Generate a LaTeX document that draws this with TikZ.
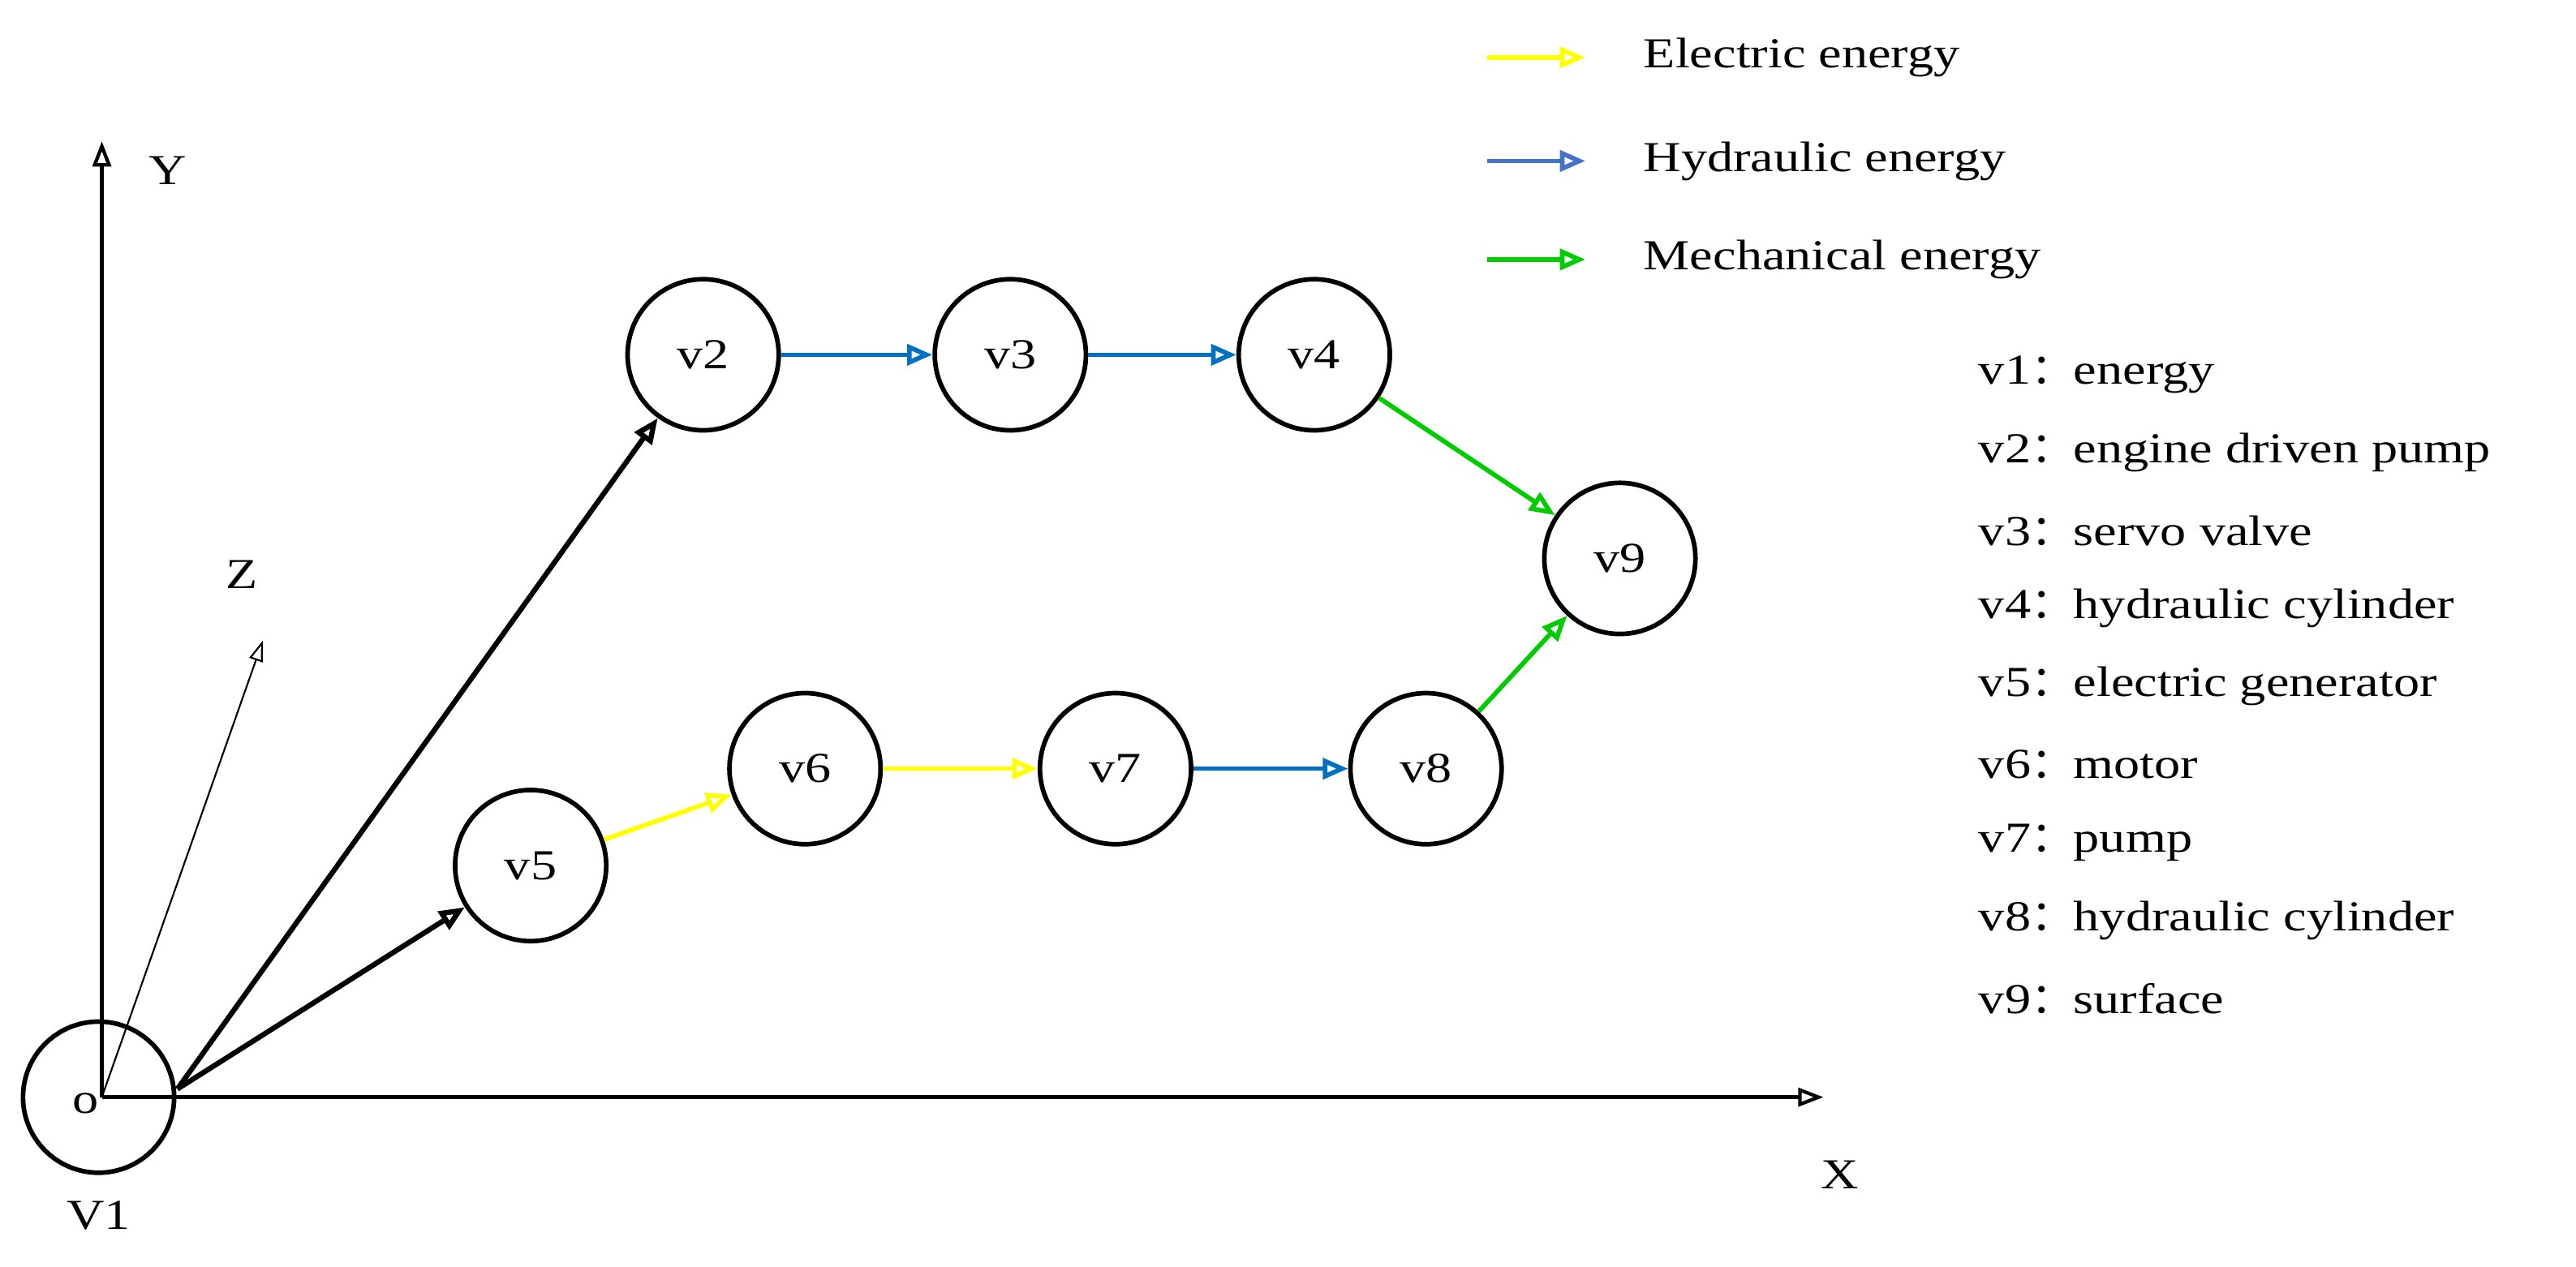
\documentclass[tikz,border=0pt]{standalone}
\usepackage{fontspec}
\setmainfont{Liberation Serif}[FakeStretch=1.22]
\newfontfamily\cjk{Noto Sans CJK SC}
\usetikzlibrary{arrows.meta}
\definecolor{cy}{HTML}{FFFF00}
\definecolor{cb}{HTML}{0070C0}
\definecolor{cb2}{HTML}{4472C4}
\definecolor{cg}{HTML}{00CC00}
\begin{document}
\begin{tikzpicture}[x=0.05cm,y=-0.05cm,
  every node/.style={font=\fontsize{37}{42}\selectfont},
  vn/.style={circle,draw,line width=4pt,minimum size=92*0.05cm,inner sep=0pt},
  ax/.style={line width=3pt,-{Triangle[open,length=22pt,width=16pt]}},
  bk/.style={line width=4.5pt,-{Triangle[open,length=22pt,width=18pt]}},
  ca/.style={line width=4pt,-{Triangle[open,length=22pt,width=18pt]}},
  lab/.style={anchor=west}]
\useasboundingbox (0,0) rectangle (1568,771);
\node[vn] (o) at (60,668) {};
\node at (52,672) {o};
\node[vn] (v2) at (428,216) {v2};
\node[vn] (v3) at (615,216) {v3};
\node[vn] (v4) at (800,216) {v4};
\node[vn] (v9) at (986,340) {v9};
\node[vn] (v5) at (323,527) {v5};
\node[vn] (v6) at (490,468) {v6};
\node[vn] (v7) at (679,468) {v7};
\node[vn] (v8) at (868,468) {v8};
\coordinate (O) at (62,668);
\coordinate (Ye) at (62,86);
\coordinate (Xe) at (1110,668);
\coordinate (Ze) at (160,390);
\coordinate (S) at (108,663);
\draw[ax] (O) -- (Ye);
\draw[ax] (O) -- (Xe);
\draw[line width=1.5pt,-{Triangle[open,length=18pt,width=12pt]}] (O) -- (Ze);
\node at (102,104) {Y};
\node at (147,350) {Z};
\node at (1120,715) {X};
\node at (60,740) {V1};
\draw[bk] (S) -- (v2);
\draw[bk] (S) -- (v5);
\draw[ca,cy] (v5) -- (v6);
\draw[ca,cy] (v6) -- (v7);
\draw[ca,cb] (v7) -- (v8);
\draw[ca,cb] (v2) -- (v3);
\draw[ca,cb] (v3) -- (v4);
\draw[ca,cg] (v4) -- (v9);
\draw[ca,cg] (v8) -- (v9);
\coordinate (l1a) at (905,35); \coordinate (l1b) at (965,35);
\coordinate (l2a) at (905,98); \coordinate (l2b) at (965,98);
\coordinate (l3a) at (905,158); \coordinate (l3b) at (965,158);
\draw[ca,cy] (l1a) -- (l1b);
\draw[ca,cb2] (l2a) -- (l2b);
\draw[ca,cg] (l3a) -- (l3b);
\node[lab] at (998,35) {Electric energy};
\node[lab] at (998,98) {Hydraulic energy};
\node[lab] at (998,158) {Mechanical energy};
\foreach \t [count=\i] in {energy,engine driven pump,servo valve,hydraulic cylinder,electric generator,motor,pump,hydraulic cylinder,surface}
  \node[lab] at (1202,{228+(\i-1)*47.5}) {v\i{\cjk ：}\t};
\end{tikzpicture}
\end{document}
